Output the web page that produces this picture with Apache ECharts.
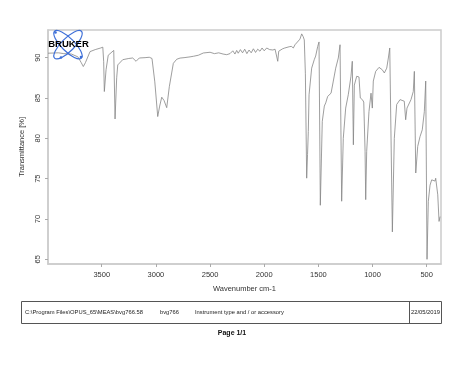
<!DOCTYPE html>
<html>
<head>
<meta charset="utf-8">
<script src="https://cdn.jsdelivr.net/npm/echarts@6/dist/echarts.min.js"></script>
<style>
html,body{margin:0;padding:0;background:#fff;}
#chart{width:474px;height:366px;}
</style>
</head>
<body>
<div id="chart"></div>
<script>
// Wavenumbers (cm-1) and transmittance (%)
var wavenumbers = [3996,3900,3850,3780,3720,3690,3670,3650,3608,3560,3510,3490,3482,3476,3460,3440,3389,3377,3362,3352,3306,3250,3214,3183,3153,3100,3061,3036,3010,2983,2965,2946,2925,2900,2876,2839,2808,2777,2740,2685,2654,2608,2562,2500,2460,2420,2380,2346,2316,2290,2270,2254,2240,2220,2200,2180,2160,2140,2120,2100,2080,2060,2039,2020,2000,1977,1950,1920,1900,1885,1875,1866,1854,1830,1810,1792,1770,1750,1731,1716,1700,1670,1654,1640,1630,1620,1608,1600,1593,1586,1562,1538,1525,1506,1494,1482,1464,1445,1432,1414,1402,1383,1362,1340,1316,1300,1285,1270,1248,1224,1199,1187,1177,1168,1146,1125,1113,1094,1081,1069,1063,1054,1033,1014,1002,993,971,940,910,891,869,854,841,817,799,777,746,707,694,682,645,624,614,601,583,562,541,522,509,497,485,469,454,439,423,417,398,386,377];
var transmittance = [90.55,90.6,90.5,90.45,90.1,89.4,88.9,89.4,90.75,91.0,91.2,91.3,89.5,85.8,88.5,90.3,90.9,82.4,87.5,89.1,89.75,89.9,89.96,89.55,89.96,90.0,90.05,89.9,87.0,82.7,84.0,85.1,84.7,83.8,86.4,89.3,89.8,89.95,90.0,90.1,90.17,90.3,90.58,90.67,90.5,90.6,90.45,90.37,90.5,90.85,90.45,90.9,90.55,91.0,90.6,91.05,90.5,90.95,90.6,91.1,90.65,91.05,90.8,91.2,90.85,91.2,91.0,90.95,91.05,90.9,89.55,90.8,91.0,91.1,91.2,91.25,91.35,91.4,91.2,91.6,91.7,92.3,92.95,92.6,92.2,88.0,75.06,78.0,80.85,85.4,88.7,89.75,90.2,91.4,91.95,71.7,82.1,84.0,84.4,85.2,85.0,85.6,87.1,88.7,89.96,91.6,72.2,80.0,83.75,85.4,87.7,89.55,79.2,86.6,87.7,87.6,85.0,84.8,84.5,78.4,72.4,78.4,83.3,85.6,83.75,87.1,88.3,88.8,88.5,88.1,88.7,89.96,91.2,68.4,80.0,84.2,84.8,84.6,82.3,83.75,84.8,85.8,88.3,75.7,79.0,80.2,81.05,83.3,87.1,65.0,72.2,74.2,74.85,75.0,74.7,75.05,73.0,69.7,70.3];
var xTicks = [500,1000,1500,2000,2500,3000,3500];
var yTicks = [65,70,75,80,85,90];

var FONT = 'Arial, "Liberation Sans", sans-serif';
var seriesData = wavenumbers.map(function(w,i){return [w, transmittance[i]];});
var plain = function(v){return String(v);};

var chart = echarts.init(document.getElementById('chart'), null, {renderer:'canvas'});
chart.setOption({
  animation:false,
  backgroundColor:'#ffffff',
  grid:{left:48,right:33,top:30,bottom:102,show:true,borderColor:'#cccccc',borderWidth:1.5,containLabel:false},
  xAxis:{
    type:'value', inverse:true, min:368, max:3996,
    name:'Wavenumber cm-1', nameLocation:'middle', nameGap:21,
    nameTextStyle:{fontFamily:FONT,fontSize:7.5,color:'#333'},
    axisLine:{show:true,lineStyle:{color:'#cccccc',width:1.5}},
    axisTick:{show:true,length:3,lineStyle:{color:'#aaaaaa'},customValues:xTicks},
    axisLabel:{fontFamily:FONT,fontSize:7.5,color:'#333',margin:7,customValues:xTicks,formatter:plain},
    splitLine:{show:false}
  },
  yAxis:{
    type:'value', min:64.42, max:93.43,
    name:'Transmittance [%]', nameLocation:'middle', nameGap:22, nameRotate:90,
    nameTextStyle:{fontFamily:FONT,fontSize:7.5,color:'#333'},
    axisLine:{show:true,lineStyle:{color:'#cccccc',width:1.5}},
    axisTick:{show:true,length:3,lineStyle:{color:'#aaaaaa'},customValues:yTicks},
    axisLabel:{fontFamily:FONT,fontSize:7.5,color:'#333',margin:6,rotate:90,customValues:yTicks,formatter:plain},
    splitLine:{show:false}
  },
  series:[{
    type:'line', data:seriesData, showSymbol:false, symbol:'none',
    lineStyle:{color:'#858585',width:0.8}, silent:true
  }],
  graphic:[
    {type:'ellipse',shape:{cx:68,cy:44.7,rx:19,ry:6.5},originX:68,originY:44.7,rotation:-Math.PI/4,style:{fill:null,stroke:'#3f70d8',lineWidth:1.2},z:10},
    {type:'ellipse',shape:{cx:68,cy:44.7,rx:19,ry:6.5},originX:68,originY:44.7,rotation:Math.PI/4,style:{fill:null,stroke:'#3f70d8',lineWidth:1.2},z:10},
    {type:'circle',shape:{cx:55.5,cy:32.5,r:1.3},style:{fill:'#3f70d8'},z:11},
    {type:'circle',shape:{cx:61,cy:57.5,r:1.3},style:{fill:'#3f70d8'},z:11},
    {type:'circle',shape:{cx:81,cy:57,r:1.3},style:{fill:'#3f70d8'},z:11},
    {type:'text',x:68.5,y:44.7,style:{text:'BRUKER',fontFamily:FONT,fontSize:9.5,fontWeight:'bold',fill:'#000',align:'center',verticalAlign:'middle'},z:12},
    {type:'rect',shape:{x:21.5,y:301.5,width:420,height:22},style:{fill:null,stroke:'#555',lineWidth:1},z:5},
    {type:'line',shape:{x1:409.5,y1:301.5,x2:409.5,y2:323.5},style:{stroke:'#555',lineWidth:1},z:5},
    {type:'text',x:25,y:312.7,style:{text:'C:\\Program Files\\OPUS_65\\MEAS\\bvg766.58',fontFamily:FONT,fontSize:5.8,fill:'#222',verticalAlign:'middle'},z:6},
    {type:'text',x:160,y:312.7,style:{text:'bvg766',fontFamily:FONT,fontSize:5.8,fill:'#222',verticalAlign:'middle'},z:6},
    {type:'text',x:195,y:312.7,style:{text:'Instrument type and / or accessory',fontFamily:FONT,fontSize:5.8,fill:'#222',verticalAlign:'middle'},z:6},
    {type:'text',x:411,y:312.7,style:{text:'22/05/2019',fontFamily:FONT,fontSize:5.8,fill:'#222',verticalAlign:'middle'},z:6},
    {type:'text',x:232,y:333,style:{text:'Page 1/1',fontFamily:FONT,fontSize:7,fontWeight:'bold',fill:'#111',align:'center',verticalAlign:'middle'},z:6}
  ]
});
</script>
</body>
</html>
